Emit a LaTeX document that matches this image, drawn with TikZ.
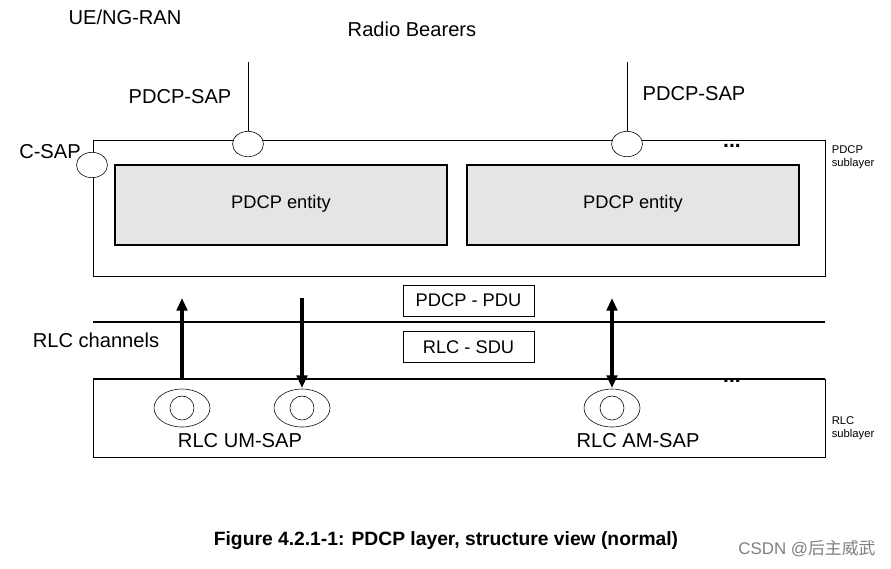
\documentclass[tikz,border=0pt]{standalone}
\usepackage{fontspec}
\setmainfont{Liberation Sans}
\newfontfamily\cjk{Noto Sans CJK SC}
\usetikzlibrary{arrows.meta,shapes.geometric}
\tikzset{
	sap/.style={draw, ellipse, fill=white, minimum width=22pt, minimum height=18pt, inner sep=0pt},
	entity/.style={draw, line width=2pt, fill=gray!20},
	pdu/.style={draw, minimum width=131*0.025cm, minimum height=31*0.025cm, inner sep=0pt},
	tip/.style={Triangle[length=9pt,width=7.5pt]},
	flow/.style={line width=2.4pt, -{Triangle[length=9pt,width=7.5pt]}},
	lbl/.style={font=\fontsize{14.3}{16}\selectfont},
	small/.style={font=\fontsize{8}{9}\selectfont, align=left}
}
\begin{document}
\begin{tikzpicture}[x=0.025cm, y=-0.025cm]
	\useasboundingbox[fill=white] (0,0) rectangle (891,568);
	
	% PDCP sublayer
	\draw (93,140) rectangle (825,276);
	\draw[entity] (115,165) rectangle (447,245);
	\draw[entity] (467,165) rectangle (799,245);
	\node[lbl, font=\fontsize{13}{14}\selectfont] (ent1) at (281,204) {PDCP entity};
	\node[lbl, font=\fontsize{13}{14}\selectfont] (ent2) at (633,204) {PDCP entity};
	
	% service access points
	\coordinate (rb1) at (248,62);
	\coordinate (rb2) at (627,62);
	\node[sap] (sap1) at (248,144) {};
	\node[sap] (sap2) at (627,144) {};
	\node[sap] (csap) at (92,165) {};
	\draw (rb1) -- (sap1);
	\draw (rb2) -- (sap2);
	
	% RLC channels
	\coordinate (chl) at (93,322);
	\coordinate (chr) at (825,322);
	\draw[line width=0.9pt] (chl) -- (chr);
	\draw (93,379) rectangle (825,457);
	\draw[line width=0.9pt] (93,379) -- (825,379);
	\node[pdu, lbl, font=\fontsize{13}{14}\selectfont] (pdu) at (468.5,300.5) {PDCP - PDU};
	\node[pdu, lbl, font=\fontsize{13}{14}\selectfont] (sdu) at (468.5,347) {RLC - SDU};
	
	% RLC SAPs
	\foreach \n/\x in {um1/182, um2/302, am/612} {
		\node[draw, ellipse, minimum width=56*0.025cm, minimum height=38*0.025cm] (\n) at (\x,408) {};
		\draw (\n.center) circle (12*0.025cm);
	}
	\coordinate (up1) at (182,298);
	\coordinate (dn2) at (302,298);
	\coordinate (da) at (612,298);
	\draw[flow] (182,380) -- (up1);
	\draw[flow] (dn2) -- (302,388);
	\draw[flow, {Triangle[length=9pt,width=7.5pt]}-{Triangle[length=9pt,width=7.5pt]}] (da) -- (612,388);
	
	% labels
	\node[lbl] (ue) at (125,17) {UE/NG-RAN};
	\node[lbl] (rb) at (412,29) {Radio Bearers};
	\node[lbl] (ps1) at (180,97) {PDCP-SAP};
	\node[lbl] (ps2) at (694,94) {PDCP-SAP};
	\node[lbl] (cs) at (50,152) {C-SAP};
	\node[lbl] (rlcch) at (96,340) {RLC channels};
	\node[lbl] (um) at (240,441) {RLC UM-SAP};
	\node[lbl] (amlbl) at (638,441) {RLC AM-SAP};
	\node[font=\fontsize{15}{16}\selectfont\bfseries] (d1) at (732,146) {...};
	\node[font=\fontsize{15}{16}\selectfont\bfseries] (d2) at (732,381) {...};
	\node[small] (pl) at (853,157) {PDCP\\sublayer};
	\node[small] (rl) at (853,428) {RLC\\sublayer};
	\node[font=\fontsize{13.7}{16}\selectfont\bfseries] (cap) at (446,541) {Figure 4.2.1-1: PDCP layer, structure view (normal)};
	\node[text=gray, font=\fontsize{12}{14}\selectfont] (wm) at (807,549) {CSDN @{\cjk 后主威武}};
\end{tikzpicture}
\end{document}
